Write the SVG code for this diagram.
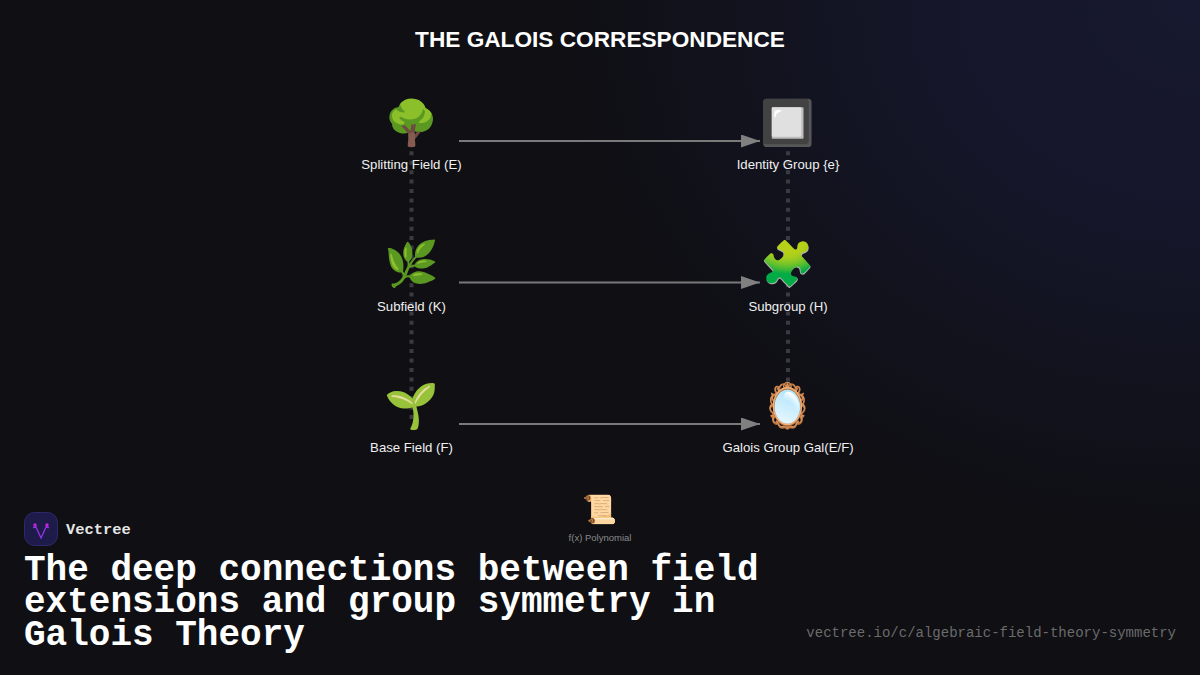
<svg xmlns="http://www.w3.org/2000/svg" width="1200" height="675" viewBox="0 0 1200 675">
<defs>
<radialGradient id="glow" gradientUnits="userSpaceOnUse" cx="0" cy="0" r="1" gradientTransform="translate(1200 0) scale(640 540)">
<stop offset="0" stop-color="#171930"/><stop offset="0.4" stop-color="#15162a"/><stop offset="0.7" stop-color="#12131e"/><stop offset="1" stop-color="#0f0f14"/>
</radialGradient>
<marker id="ah" markerUnits="userSpaceOnUse" markerWidth="20" markerHeight="14" refX="19" refY="6.500" orient="auto"><path d="M0 0L19 6.500L0 13Z" fill="#808080"/></marker>
</defs>
<style>
.e{font-family:"Noto Color Emoji","Liberation Sans",sans-serif;font-size:44px;text-anchor:middle}
.l{font-family:"Liberation Sans",Arial,sans-serif;font-size:13.200px;fill:#f0f0f0;text-anchor:middle}
.h{stroke:#7a7a7a;stroke-width:2;fill:none;marker-end:url(#ah)}
.v{stroke:#3a3a40;stroke-width:4;stroke-dasharray:4 5.420;fill:none}
.m{font-family:"Liberation Mono",monospace}
</style>
<rect width="1200" height="675" fill="#0f0f14"/>
<rect width="1200" height="675" fill="url(#glow)"/>
<text x="600" y="47.300" text-anchor="middle" font-family="Liberation Sans,Arial,sans-serif" font-weight="700" font-size="22.650" fill="#fff">THE GALOIS CORRESPONDENCE</text>
<g id="connectors">
<path class="v" d="M411.500 151.300V420"/>
<path class="v" d="M788 151.300V420"/>
<path class="h" d="M459 141H760"/>
<path class="h" d="M459 282.500H760"/>
<path class="h" d="M459 424H760"/>
</g>
<g id="n-e"><text class="e" x="411.500" y="138">🌳</text><text class="l" x="411.500" y="169">Splitting Field (E)</text></g>
<g id="n-k"><text class="e" x="411.500" y="279">🌿</text><text class="l" x="411.500" y="311">Subfield (K)</text></g>
<g id="n-f"><text class="e" x="411.500" y="420.500">🌱</text><text class="l" x="411.500" y="452">Base Field (F)</text></g>
<g id="n-id"><text class="e" x="788" y="138">🔲</text><text class="l" x="788" y="169">Identity Group {e}</text></g>
<g id="n-h"><text class="e" x="788" y="279">🧩</text><text class="l" x="788" y="311">Subgroup (H)</text></g>
<g id="n-gal"><text class="e" x="788" y="420.500">🪞</text><text class="l" x="788" y="452">Galois Group Gal(E/F)</text></g>
<g id="n-poly"><text class="e" style="font-size:28px" x="600" y="518.500">📜</text><text class="l" style="font-size:9.500px;fill:#8a8a8a" x="600" y="541">f(x) Polynomial</text></g>
<g id="brand">
<rect x="24.500" y="512.500" width="33" height="33" rx="10" fill="#1e1b4b" stroke="#2d2a6b"/>
<path d="M35 525L41 538L47 525M33 527.500L36.500 527M49 527.500L45.500 527" fill="none" stroke="#9333ea" stroke-width="1.300"/>
<circle cx="35" cy="525" r="1.700" fill="#c026d3"/><circle cx="47" cy="525" r="1.700" fill="#c026d3"/>
<text class="m" x="66" y="534" font-size="15.400" font-weight="700" fill="#e5e5e5">Vectree</text>
</g>
<g class="m" font-size="36" font-weight="700" fill="#fff">
<text x="24" y="580">The deep connections between field</text>
<text x="24" y="612.400">extensions and group symmetry in</text>
<text x="24" y="644.800">Galois Theory</text>
</g>
<text class="m" x="1176" y="637" text-anchor="end" font-size="14" fill="#6b6b6b">vectree.io/c/algebraic-field-theory-symmetry</text>
</svg>
